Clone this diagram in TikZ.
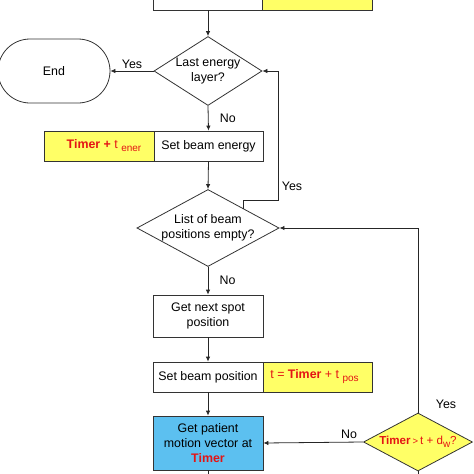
\documentclass[tikz,border=0pt]{standalone}
\usepackage{fontspec}
\setmainfont{Liberation Sans}
\usetikzlibrary{shapes.geometric,arrows.meta}
\definecolor{boxyellow}{RGB}{255,255,102}
\definecolor{boxblue}{RGB}{92,192,240}
\definecolor{txtred}{RGB}{228,20,20}
\newcommand{\lowtxt}[1]{\raisebox{-0.45ex}{\fontsize{10}{10}\selectfont #1}}

\begin{document}
\begin{tikzpicture}[x=1pt,y=-1pt,
    every node/.style={font=\fontsize{12.4}{15}\selectfont},
    box/.style={draw=black!80, line width=0.8pt, rectangle, fill=white, inner sep=2pt, align=center},
    ybox/.style={box, fill=boxyellow, text=txtred},
    cond/.style={draw=black!80, line width=0.8pt, diamond, fill=white, inner sep=0pt, align=center},
    arr/.style={draw=black!85, line width=0.8pt, -{Latex[length=5pt,width=4.5pt]}}]
    \useasboundingbox (0,0) rectangle (474,474);
    \node[box, minimum width=109pt, minimum height=40pt] (top) at (208,-10) {};
    \node[ybox, minimum width=110pt, minimum height=40pt] (toptime) at (317.5,-10) {};
    \node[cond, aspect=1.57, minimum width=108pt, minimum height=69pt] (d1) at (208,71) {Last energy\\layer?};
    \node[draw=black!80, line width=0.8pt, rounded corners=32pt, minimum width=112pt, minimum height=64pt] (end) at (54,71) {End};
    \node[box, minimum width=109pt, minimum height=30pt] (ener) at (208.5,146) {Set beam energy};
    \node[ybox, minimum width=110pt, minimum height=30pt] (tener) at (99,146) {\hspace{10pt}\textbf{Timer + }t \lowtxt{ener}};
    \node[cond, aspect=1.85, minimum width=140pt, minimum height=77pt] (d2) at (208,228) {List of beam\\positions empty?};
    \node[box, minimum width=110pt, minimum height=42pt] (spot) at (208,316) {Get next spot\\position};
    \node[box, minimum width=110pt, minimum height=30pt] (pos) at (208,377) {Set beam position};
    \node[ybox, minimum width=109pt, minimum height=30pt] (tpos) at (317.5,377) {t =\ \textbf{Timer} + t \lowtxt{pos}\hspace{6pt}};
    \node[box, fill=boxblue, minimum width=110pt, minimum height=54pt] (motion) at (208,443) {Get patient\\motion vector at\\\textcolor{txtred}{\textbf{Timer}}};
    \node[cond, fill=boxyellow, text=txtred, aspect=1.9, minimum width=109pt, minimum height=58pt,
        font=\fontsize{11.6}{13}\selectfont] (d3) at (418,442) {\textbf{Timer}\,{\fontsize{9.5}{9}\selectfont >}\,t + d\lowtxt{w}?};
    \coordinate (loop) at (278,200);
    \coordinate (out1) at (208,490);
    \coordinate (out2) at (418,490);
    \draw[arr] (top.south) -- (d1.north);
    \draw[arr] (d1.west) -- (end.east) node[midway, above=-1pt] (yes1) {Yes};
    \draw[arr] (d1.south) -- (ener.north) node[midway, right=8pt] (no1) {No};
    \draw[arr] (ener.south) -- (d2.north);
    \draw[arr] (d2.north east) |- (loop) |- (d1.east);
    \node (yes2) at (292,186) {Yes};
    \draw[arr] (d2.south) -- (spot.north) node[midway, right=8pt] (no2) {No};
    \draw[arr] (spot) -- (pos);
    \draw[arr] (pos) -- (motion);
    \draw[arr] (d3.west) -- (motion.east) node[pos=0.14, above=0pt] (no3) {No};
    \draw[arr] (d3.north) |- (d2.east);
    \node (yes3) at (446,404) {Yes};
    \draw[arr] (motion.south) -- (out1);
    \draw[draw=black!85, line width=0.8pt] (d3.south) -- (out2);
\end{tikzpicture}
\end{document}
